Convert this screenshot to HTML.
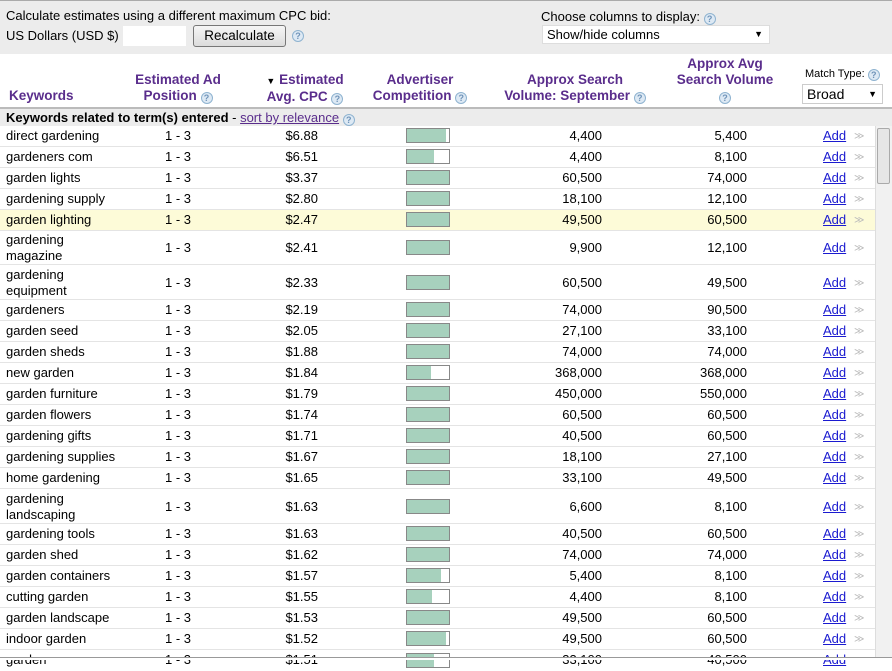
<!DOCTYPE html>
<html><head><meta charset="utf-8"><style>
*{margin:0;padding:0;box-sizing:border-box}
body{width:892px;height:660px;overflow:hidden;background:#fff;font-family:"Liberation Sans",Arial,sans-serif;font-size:13px;color:#000;position:relative}
.a{position:absolute;white-space:nowrap}
.h{color:#5a2d8c;font-weight:bold;font-size:13.5px;line-height:16px;text-align:center}
.q{display:inline-block;width:12px;height:12px;border:1px solid #8fb3d0;border-radius:50%;background:#dde9f4;color:#6f93b8;font-size:9px;line-height:10px;text-align:center;font-weight:bold;vertical-align:-1px}
.r{position:absolute;left:0;width:875px;border-bottom:1px solid #e4e4e4}
.r div{position:absolute;white-space:nowrap;line-height:16px}
.k{left:6px}
.p{left:150px;width:56px;text-align:center}
.c{right:557px}
.b{left:406px;width:44px;height:15px;border:1px solid #888;background:#fff}
.b i{display:block;height:100%;background:#a7d1bd}
.s{right:273px}
.v{right:128px}
.d{left:823px;color:#1a1ad0;text-decoration:underline}
.e{left:854px;color:#bbb;font-size:10px}
</style></head><body>
<div class="a" style="left:0;top:0;width:892px;height:54px;background:#ececec;border-top:1px solid #aaa"></div>
<div class="a" style="left:6px;top:8px">Calculate estimates using a different maximum CPC bid:</div>
<div class="a" style="left:6px;top:28px">US Dollars (USD $)</div>
<div class="a" style="left:123px;top:26px;width:63px;height:20px;background:#fff"></div>
<div class="a" style="left:193px;top:25px;width:93px;height:22px;border:1px solid #777;border-radius:3px;background:linear-gradient(#f6f6f6,#dcdcdc);text-align:center;line-height:20px;font-size:13.5px">Recalculate</div>
<div class="a" style="left:292px;top:26px"><span class="q">?</span></div>
<div class="a" style="left:541px;top:9px">Choose columns to display: <span class="q">?</span></div>
<div class="a" style="left:542px;top:25px;width:228px;height:19px;background:#fff;border:1px solid #ddd;padding-left:4px;line-height:17px">Show/hide columns<span style="position:absolute;right:6px;font-size:9px">▼</span></div>
<div class="a h" style="left:9px;top:88px">Keywords</div>
<div class="a h" style="left:128px;top:72px;width:100px">Estimated Ad<br>Position <span class="q">?</span></div>
<div class="a h" style="left:250px;top:72px;width:110px"><span style="color:#000;font-size:9px">▼</span> Estimated<br>Avg. CPC <span class="q">?</span></div>
<div class="a h" style="left:365px;top:72px;width:110px">Advertiser<br>Competition <span class="q">?</span></div>
<div class="a h" style="left:495px;top:72px;width:160px">Approx Search<br>Volume: September <span class="q">?</span></div>
<div class="a h" style="left:660px;top:56px;width:130px">Approx Avg<br>Search Volume<br><span class="q">?</span></div>
<div class="a" style="left:805px;top:68px;font-size:11px">Match Type: <span class="q">?</span></div>
<div class="a" style="left:802px;top:84px;width:81px;height:20px;border:1px solid #ccc;padding-left:4px;line-height:18px;font-size:14px">Broad<span style="position:absolute;right:5px;font-size:9px">▼</span></div>
<div class="a" style="left:0;top:107px;width:892px;height:2px;background:#bbb"></div>
<div class="a" style="left:0;top:109px;width:892px;height:17px;background:#ececec"></div>
<div class="a" style="left:6px;top:110px"><b>Keywords related to term(s) entered</b> - <span style="color:#5a2d8c;text-decoration:underline">sort by relevance</span> <span class="q">?</span></div>
<div class="a" style="left:875px;top:126px;width:17px;height:534px;background:#f1f1f1;border-left:1px solid #ddd"></div>
<div class="a" style="left:877px;top:128px;width:13px;height:56px;background:#e6e6e6;border:1px solid #aaa;border-radius:2px"></div>

<div class="r" style="top:126px;height:21px"><div class="k" style="top:2px">direct gardening</div><div class="p" style="top:2px">1 - 3</div><div class="c" style="top:2px">$6.88</div><div class="b" style="top:2px"><i style="width:92%"></i></div><div class="s" style="top:2px">4,400</div><div class="v" style="top:2px">5,400</div><div class="d" style="top:2px">Add</div><div class="e" style="top:3px">≫</div></div>
<div class="r" style="top:147px;height:21px"><div class="k" style="top:2px">gardeners com</div><div class="p" style="top:2px">1 - 3</div><div class="c" style="top:2px">$6.51</div><div class="b" style="top:2px"><i style="width:65%"></i></div><div class="s" style="top:2px">4,400</div><div class="v" style="top:2px">8,100</div><div class="d" style="top:2px">Add</div><div class="e" style="top:3px">≫</div></div>
<div class="r" style="top:168px;height:21px"><div class="k" style="top:2px">garden lights</div><div class="p" style="top:2px">1 - 3</div><div class="c" style="top:2px">$3.37</div><div class="b" style="top:2px"><i style="width:100%"></i></div><div class="s" style="top:2px">60,500</div><div class="v" style="top:2px">74,000</div><div class="d" style="top:2px">Add</div><div class="e" style="top:3px">≫</div></div>
<div class="r" style="top:189px;height:21px"><div class="k" style="top:2px">gardening supply</div><div class="p" style="top:2px">1 - 3</div><div class="c" style="top:2px">$2.80</div><div class="b" style="top:2px"><i style="width:100%"></i></div><div class="s" style="top:2px">18,100</div><div class="v" style="top:2px">12,100</div><div class="d" style="top:2px">Add</div><div class="e" style="top:3px">≫</div></div>
<div class="r" style="top:210px;height:21px;background:#fdfbd8"><div class="k" style="top:2px">garden lighting</div><div class="p" style="top:2px">1 - 3</div><div class="c" style="top:2px">$2.47</div><div class="b" style="top:2px"><i style="width:100%"></i></div><div class="s" style="top:2px">49,500</div><div class="v" style="top:2px">60,500</div><div class="d" style="top:2px">Add</div><div class="e" style="top:3px">≫</div></div>
<div class="r" style="top:231px;height:34px"><div class="k" style="top:1px">gardening<br>magazine</div><div class="p" style="top:9px">1 - 3</div><div class="c" style="top:9px">$2.41</div><div class="b" style="top:9px"><i style="width:100%"></i></div><div class="s" style="top:9px">9,900</div><div class="v" style="top:9px">12,100</div><div class="d" style="top:9px">Add</div><div class="e" style="top:10px">≫</div></div>
<div class="r" style="top:265px;height:35px"><div class="k" style="top:2px">gardening<br>equipment</div><div class="p" style="top:10px">1 - 3</div><div class="c" style="top:10px">$2.33</div><div class="b" style="top:10px"><i style="width:100%"></i></div><div class="s" style="top:10px">60,500</div><div class="v" style="top:10px">49,500</div><div class="d" style="top:10px">Add</div><div class="e" style="top:11px">≫</div></div>
<div class="r" style="top:300px;height:21px"><div class="k" style="top:2px">gardeners</div><div class="p" style="top:2px">1 - 3</div><div class="c" style="top:2px">$2.19</div><div class="b" style="top:2px"><i style="width:100%"></i></div><div class="s" style="top:2px">74,000</div><div class="v" style="top:2px">90,500</div><div class="d" style="top:2px">Add</div><div class="e" style="top:3px">≫</div></div>
<div class="r" style="top:321px;height:21px"><div class="k" style="top:2px">garden seed</div><div class="p" style="top:2px">1 - 3</div><div class="c" style="top:2px">$2.05</div><div class="b" style="top:2px"><i style="width:100%"></i></div><div class="s" style="top:2px">27,100</div><div class="v" style="top:2px">33,100</div><div class="d" style="top:2px">Add</div><div class="e" style="top:3px">≫</div></div>
<div class="r" style="top:342px;height:21px"><div class="k" style="top:2px">garden sheds</div><div class="p" style="top:2px">1 - 3</div><div class="c" style="top:2px">$1.88</div><div class="b" style="top:2px"><i style="width:100%"></i></div><div class="s" style="top:2px">74,000</div><div class="v" style="top:2px">74,000</div><div class="d" style="top:2px">Add</div><div class="e" style="top:3px">≫</div></div>
<div class="r" style="top:363px;height:21px"><div class="k" style="top:2px">new garden</div><div class="p" style="top:2px">1 - 3</div><div class="c" style="top:2px">$1.84</div><div class="b" style="top:2px"><i style="width:58%"></i></div><div class="s" style="top:2px">368,000</div><div class="v" style="top:2px">368,000</div><div class="d" style="top:2px">Add</div><div class="e" style="top:3px">≫</div></div>
<div class="r" style="top:384px;height:21px"><div class="k" style="top:2px">garden furniture</div><div class="p" style="top:2px">1 - 3</div><div class="c" style="top:2px">$1.79</div><div class="b" style="top:2px"><i style="width:100%"></i></div><div class="s" style="top:2px">450,000</div><div class="v" style="top:2px">550,000</div><div class="d" style="top:2px">Add</div><div class="e" style="top:3px">≫</div></div>
<div class="r" style="top:405px;height:21px"><div class="k" style="top:2px">garden flowers</div><div class="p" style="top:2px">1 - 3</div><div class="c" style="top:2px">$1.74</div><div class="b" style="top:2px"><i style="width:100%"></i></div><div class="s" style="top:2px">60,500</div><div class="v" style="top:2px">60,500</div><div class="d" style="top:2px">Add</div><div class="e" style="top:3px">≫</div></div>
<div class="r" style="top:426px;height:21px"><div class="k" style="top:2px">gardening gifts</div><div class="p" style="top:2px">1 - 3</div><div class="c" style="top:2px">$1.71</div><div class="b" style="top:2px"><i style="width:100%"></i></div><div class="s" style="top:2px">40,500</div><div class="v" style="top:2px">60,500</div><div class="d" style="top:2px">Add</div><div class="e" style="top:3px">≫</div></div>
<div class="r" style="top:447px;height:21px"><div class="k" style="top:2px">gardening supplies</div><div class="p" style="top:2px">1 - 3</div><div class="c" style="top:2px">$1.67</div><div class="b" style="top:2px"><i style="width:100%"></i></div><div class="s" style="top:2px">18,100</div><div class="v" style="top:2px">27,100</div><div class="d" style="top:2px">Add</div><div class="e" style="top:3px">≫</div></div>
<div class="r" style="top:468px;height:21px"><div class="k" style="top:2px">home gardening</div><div class="p" style="top:2px">1 - 3</div><div class="c" style="top:2px">$1.65</div><div class="b" style="top:2px"><i style="width:100%"></i></div><div class="s" style="top:2px">33,100</div><div class="v" style="top:2px">49,500</div><div class="d" style="top:2px">Add</div><div class="e" style="top:3px">≫</div></div>
<div class="r" style="top:489px;height:35px"><div class="k" style="top:2px">gardening<br>landscaping</div><div class="p" style="top:10px">1 - 3</div><div class="c" style="top:10px">$1.63</div><div class="b" style="top:10px"><i style="width:100%"></i></div><div class="s" style="top:10px">6,600</div><div class="v" style="top:10px">8,100</div><div class="d" style="top:10px">Add</div><div class="e" style="top:11px">≫</div></div>
<div class="r" style="top:524px;height:21px"><div class="k" style="top:2px">gardening tools</div><div class="p" style="top:2px">1 - 3</div><div class="c" style="top:2px">$1.63</div><div class="b" style="top:2px"><i style="width:100%"></i></div><div class="s" style="top:2px">40,500</div><div class="v" style="top:2px">60,500</div><div class="d" style="top:2px">Add</div><div class="e" style="top:3px">≫</div></div>
<div class="r" style="top:545px;height:21px"><div class="k" style="top:2px">garden shed</div><div class="p" style="top:2px">1 - 3</div><div class="c" style="top:2px">$1.62</div><div class="b" style="top:2px"><i style="width:100%"></i></div><div class="s" style="top:2px">74,000</div><div class="v" style="top:2px">74,000</div><div class="d" style="top:2px">Add</div><div class="e" style="top:3px">≫</div></div>
<div class="r" style="top:566px;height:21px"><div class="k" style="top:2px">garden containers</div><div class="p" style="top:2px">1 - 3</div><div class="c" style="top:2px">$1.57</div><div class="b" style="top:2px"><i style="width:80%"></i></div><div class="s" style="top:2px">5,400</div><div class="v" style="top:2px">8,100</div><div class="d" style="top:2px">Add</div><div class="e" style="top:3px">≫</div></div>
<div class="r" style="top:587px;height:21px"><div class="k" style="top:2px">cutting garden</div><div class="p" style="top:2px">1 - 3</div><div class="c" style="top:2px">$1.55</div><div class="b" style="top:2px"><i style="width:60%"></i></div><div class="s" style="top:2px">4,400</div><div class="v" style="top:2px">8,100</div><div class="d" style="top:2px">Add</div><div class="e" style="top:3px">≫</div></div>
<div class="r" style="top:608px;height:21px"><div class="k" style="top:2px">garden landscape</div><div class="p" style="top:2px">1 - 3</div><div class="c" style="top:2px">$1.53</div><div class="b" style="top:2px"><i style="width:100%"></i></div><div class="s" style="top:2px">49,500</div><div class="v" style="top:2px">60,500</div><div class="d" style="top:2px">Add</div><div class="e" style="top:3px">≫</div></div>
<div class="r" style="top:629px;height:21px"><div class="k" style="top:2px">indoor garden</div><div class="p" style="top:2px">1 - 3</div><div class="c" style="top:2px">$1.52</div><div class="b" style="top:2px"><i style="width:92%"></i></div><div class="s" style="top:2px">49,500</div><div class="v" style="top:2px">60,500</div><div class="d" style="top:2px">Add</div><div class="e" style="top:3px">≫</div></div>
<div class="r" style="top:650px;height:21px;border:none"><div class="k" style="top:2px">garden</div><div class="p" style="top:2px">1 - 3</div><div class="c" style="top:2px">$1.51</div><div class="b" style="top:3px"><i style="width:65%"></i></div><div class="s" style="top:2px">33,100</div><div class="v" style="top:2px">40,500</div><div class="d" style="top:2px">Add</div></div>
<div class="a" style="left:0;top:657px;width:892px;height:3px;background:#fff;border-top:1px solid #999"></div>
</body></html>
